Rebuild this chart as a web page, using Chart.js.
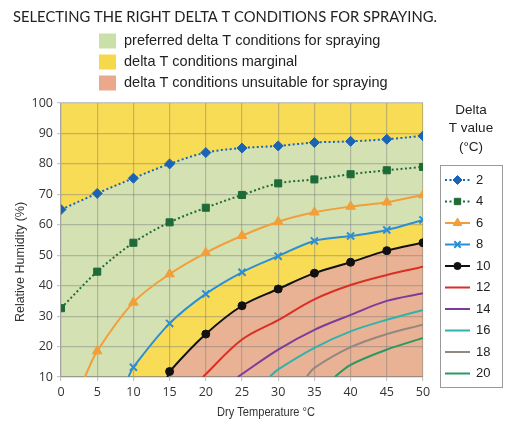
<!DOCTYPE html>
<html>
<head>
<meta charset="utf-8">
<script src="https://cdn.jsdelivr.net/npm/chart.js@4/dist/chart.umd.min.js"></script>
<style>
  body { margin: 0; background: #fff; }
  canvas { display: block; }
</style>
</head>
<body>
<canvas id="chart" width="505" height="433"></canvas>
<script>
// Delta T lines, [dry temperature °C, relative humidity %]
const deltaValues = [2, 4, 6, 8, 10, 12, 14, 16, 18, 20];
const rh2 = [[0, 65], [5, 70.3], [10, 75.3], [15, 80], [20, 83.7], [25, 85.2], [30, 85.9], [35, 87], [40, 87.4], [45, 88.1], [50, 89.2]];
const rh4 = [[0, 32.6], [5, 44.6], [10, 54.1], [15, 60.8], [20, 65.6], [25, 69.8], [30, 73.6], [35, 74.9], [40, 76.6], [45, 77.9], [50, 79]];
const rh6 = [[3.3, 10], [5, 18.5], [10, 34.5], [15, 43.8], [20, 50.8], [25, 56.4], [30, 61], [35, 64.1], [40, 66], [45, 67.4], [50, 69.8]];
const rh8 = [[9.3, 10], [10, 13.2], [15, 27.6], [20, 37.3], [25, 44.4], [30, 49.7], [35, 54.7], [40, 56.3], [45, 58.3], [50, 61.6]];
const rh10 = [[14.7, 10], [15, 11.8], [20, 24.1], [25, 33.4], [30, 38.9], [35, 44.1], [40, 47.7], [45, 51.5], [50, 54.1]];
const rh12 = [[19.6, 10], [25, 22.3], [30, 28.7], [35, 35.5], [40, 40.2], [45, 43.5], [50, 46.2]];
const rh14 = [[24.4, 10], [30, 19], [35, 25.5], [40, 30.4], [45, 35], [50, 37.5]];
const rh16 = [[28.8, 10], [30, 12.5], [35, 19.6], [40, 25], [45, 28.8], [50, 32]];
const rh18 = [[33.9, 10], [35, 13], [40, 19.8], [45, 24.1], [50, 27.2]];
const rh20 = [[37.8, 10], [40, 14], [45, 19], [50, 22.8]];
const seriesData = [rh2, rh4, rh6, rh8, rh10, rh12, rh14, rh16, rh18, rh20];

const xTicks = [0, 5, 10, 15, 20, 25, 30, 35, 40, 45, 50];
const yTicks = [10, 20, 30, 40, 50, 60, 70, 80, 90, 100];

const chartTitle = "SELECTING THE RIGHT DELTA T CONDITIONS FOR SPRAYING.";
const zoneLabels = ["preferred delta T conditions for spraying", "delta T conditions marginal", "delta T conditions unsuitable for spraying"];
const legendTitle = ["Delta", "T value", "(°C)"];

// styles
const GREEN = "#d4e2b3";
const YELLOW = "#f9dc55";
const SALMON = "#e9b294";
const zoneColors = ["#cbe0a9", "#f6d94a", "#eaa98a"];
const lineColors = ["#1b63b5", "#1e6b38", "#f29e3a", "#2a8fd4", "#111111", "#da2f27", "#7b3c9c", "#2fb3ad", "#948780", "#2a9863"];
const markerStyles = ["rectRot", "rect", "triangle", "crossRot", "circle", null, null, null, null, null];
const markerSizes = [5, 5, 5.5, 5, 4, 0, 0, 0, 0, 0];
const fills = ["start", "end", false, "start", "start", false, false, false, false, false];
const fillColors = [GREEN, YELLOW, "transparent", YELLOW, SALMON, "transparent", "transparent", "transparent", "transparent", "transparent"];
// fills are painted from highest order to lowest
const orders = [3, 4, 0, 2, 1, 0, 0, 0, 0, 0];
const gridColor = "rgba(120,120,120,0.42)";

const datasets = deltaValues.map((d, i) => ({
  label: String(d),
  data: seriesData[i].map(p => ({ x: p[0], y: p[1] })),
  borderColor: lineColors[i],
  backgroundColor: fillColors[i],
  borderWidth: 2,
  borderDash: i < 2 ? [2, 2.5] : [],
  tension: 0.35,
  pointStyle: markerStyles[i] || "circle",
  pointRadius: c => (markerStyles[i] && c.raw && c.raw.x % 5 === 0) ? markerSizes[i] : 0,
  pointBackgroundColor: lineColors[i],
  pointBorderColor: lineColors[i],
  pointBorderWidth: i === 3 ? 2 : 1,
  fill: fills[i],
  order: orders[i]
}));

// title, zone legend, axis titles and the delta T legend box
const decor = {
  id: "decor",
  afterDraw(chart) {
    const ctx = chart.ctx;
    ctx.save();
    ctx.textBaseline = "middle";
    ctx.textAlign = "left";
    ctx.fillStyle = "#222";
    ctx.font = "15.5px Lato";
    ctx.fillText(chartTitle, 13, 17, 424);

    ctx.font = "14.5px 'Liberation Sans'";
    zoneLabels.forEach((t, i) => {
      const y = 41 + i * 21;
      ctx.fillStyle = zoneColors[i];
      ctx.fillRect(99, y - 7.5, 17, 15);
      ctx.fillStyle = "#222";
      ctx.fillText(t, 124, y, 280);
    });

    // axis titles
    ctx.fillStyle = "#333";
    ctx.font = "12.5px 'Liberation Sans'";
    ctx.textAlign = "center";
    ctx.fillText("Dry Temperature °C", 266, 413, 98);
    ctx.save();
    ctx.translate(21, 262);
    ctx.rotate(-Math.PI / 2);
    ctx.fillText("Relative Humidity (%)", 0, 0, 145);
    ctx.restore();

    // legend box
    ctx.fillStyle = "#222";
    ctx.font = "13.5px 'Liberation Sans'";
    legendTitle.forEach((t, i) => ctx.fillText(t, 471, 110 + i * 18.5));
    ctx.strokeStyle = "#9a9a9a";
    ctx.lineWidth = 1;
    ctx.strokeRect(440.5, 165.5, 62, 222);

    ctx.textAlign = "left";
    ctx.font = "13px 'Liberation Sans'";
    deltaValues.forEach((d, i) => {
      const y = 180 + i * 21.5;
      const ds = datasets[i];
      ctx.strokeStyle = lineColors[i];
      ctx.lineWidth = 2;
      ctx.setLineDash(ds.borderDash);
      ctx.beginPath();
      ctx.moveTo(445, y);
      ctx.lineTo(470, y);
      ctx.stroke();
      ctx.setLineDash([]);
      if (markerStyles[i]) {
        ctx.fillStyle = lineColors[i];
        ctx.lineWidth = ds.pointBorderWidth;
        Chart.helpers.drawPoint(ctx, { pointStyle: markerStyles[i], radius: markerSizes[i] * 0.9, rotation: 0, borderWidth: ds.pointBorderWidth }, 457.5, y);
      }
      ctx.fillStyle = "#222";
      ctx.fillText(String(d), 476, y);
    });
    ctx.restore();
  }
};

new Chart(document.getElementById("chart"), {
  type: "line",
  data: { datasets },
  plugins: [decor],
  options: {
    responsive: false,
    animation: false,
    layout: { padding: { left: 0, top: 103, right: 82, bottom: 0 } },
    plugins: {
      legend: { display: false },
      tooltip: { enabled: false },
      filler: { drawTime: "beforeDraw", propagate: false }
    },
    scales: {
      x: {
        type: "linear",
        min: xTicks[0],
        max: xTicks[xTicks.length - 1],
        afterBuildTicks: s => { s.ticks = xTicks.map(v => ({ value: v })); },
        ticks: { color: "#333", font: { family: "'Open Sans'", size: 12.5 }, padding: 4, maxRotation: 0 },
        grid: { color: gridColor, lineWidth: 1.2, tickLength: 4 },
        border: { color: gridColor, width: 1.2 },
        afterFit: s => { s.height = 56; }
      },
      y: {
        min: yTicks[0],
        max: yTicks[yTicks.length - 1],
        afterBuildTicks: s => { s.ticks = yTicks.map(v => ({ value: v })); },
        ticks: { color: "#333", font: { family: "'Open Sans'", size: 12.5 }, padding: 4 },
        grid: { color: gridColor, lineWidth: 1.2, tickLength: 4 },
        border: { color: gridColor, width: 1.2 },
        afterFit: s => { s.width = 61; }
      }
    }
  }
});
</script>
</body>
</html>
